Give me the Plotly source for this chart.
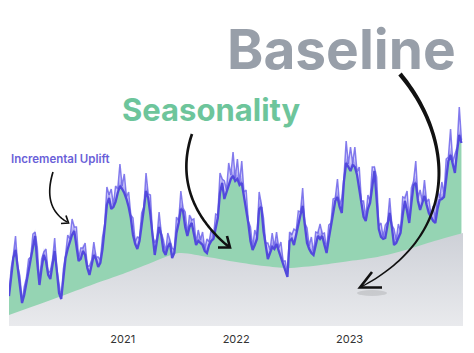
import numpy as np
import pandas as pd
import plotly.graph_objects as go

W, H = 474, 353

# ---- data (heights, arbitrary units) ----
weeks = pd.date_range("2020-01-01", periods=209, freq="7D")
# baseline + seasonality level (top of the green area)
total = [36, 54, 74, 82, 64, 47, 29, 37, 51, 61, 73, 83, 96, 69, 47, 64, 77, 71, 57, 53,
         69, 81, 61, 39, 33, 54, 74, 83, 91, 97, 101, 87, 71, 73, 81, 77, 64, 57, 69, 77,
         73, 65, 69, 83, 104, 127, 134, 123, 125, 130, 139, 146, 143, 139, 133, 125, 114, 97, 88, 83,
         91, 105, 123, 141, 134, 117, 94, 77, 91, 105, 97, 81, 77, 85, 89, 74, 79, 99, 109, 123,
         121, 105, 96, 105, 109, 97, 87, 91, 89, 87, 81, 79, 87, 91, 93, 103, 114, 139, 149, 133,
         139, 147, 153, 156, 151, 153, 147, 149, 137, 124, 109, 91, 82, 87, 93, 123, 125, 101, 87, 73,
         79, 85, 83, 88, 81, 75, 69, 61, 55, 91, 93, 87, 99, 107, 117, 126, 107, 89, 83, 79,
         77, 87, 96, 93, 96, 87, 79, 93, 107, 117, 131, 135, 125, 119, 151, 169, 165, 161, 167, 165,
         157, 144, 129, 115, 111, 123, 129, 147, 161, 133, 103, 95, 93, 94, 107, 119, 105, 87, 89, 94,
         99, 117, 131, 121, 109, 129, 147, 149, 131, 122, 129, 136, 127, 119, 115, 111, 109, 123, 132, 133,
         135, 151, 171, 177, 167, 159, 181, 197, 189]
# incremental uplift spikes on top of it
uplift = [2, 10, 3, 14, 2, 9, 1, 8, 3, 12, 2, 15, 4, 16, 2, 9, 3, 12, 2, 8,
          3, 13, 2, 11, 1, 9, 3, 14, 2, 16, 4, 18, 2, 11, 3, 12, 2, 9, 3, 13,
          2, 10, 3, 12, 4, 18, 3, 20, 2, 16, 4, 22, 3, 19, 2, 15, 3, 17, 2, 12,
          3, 14, 2, 18, 4, 20, 2, 12, 3, 15, 2, 11, 3, 14, 2, 10, 3, 16, 2, 18,
          3, 15, 2, 12, 3, 16, 2, 11, 3, 13, 2, 14, 3, 12, 2, 15, 3, 20, 4, 18,
          3, 22, 4, 24, 3, 20, 2, 22, 3, 18, 2, 14, 3, 15, 2, 17, 3, 13, 2, 16,
          3, 14, 2, 12, 3, 15, 2, 10, 3, 9, 4, 16, 2, 14, 3, 18, 2, 15, 3, 16,
          2, 13, 3, 15, 2, 12, 3, 14, 2, 16, 3, 18, 2, 15, 4, 22, 3, 24, 2, 20,
          3, 21, 2, 16, 3, 14, 2, 18, 4, 22, 3, 14, 2, 13, 3, 15, 2, 16, 3, 14,
          2, 18, 3, 20, 2, 15, 4, 22, 3, 20, 2, 16, 3, 14, 2, 15, 3, 18, 2, 17,
          3, 22, 4, 26, 3, 20, 4, 28, 3]

baseline_dates = ["2020-01-01", "2020-06-01", "2020-10-01", "2021-01-01", "2021-04-01",
                  "2021-07-01", "2021-10-01", "2022-01-01", "2022-04-01", "2022-06-15",
                  "2022-10-01", "2023-01-01", "2023-04-01", "2023-07-01", "2023-10-01",
                  "2024-01-01"]
baseline = [11, 28, 42, 52, 63, 73, 69, 64, 60, 58, 61, 65, 69, 76, 85, 93]

year_ticks = ["2021-01-01", "2022-01-01", "2023-01-01"]
year_labels = ["2021", "2022", "2023"]

GREEN = "#95d4b3"
PURPLE = "#5249dc"

LINE_DROP = 6  # drawing offset of the solid line below the read level

lvl = np.array(total, dtype=float) - LINE_DROP
top = lvl + np.array(uplift, dtype=float)

fig = go.Figure()

# seasonality (green area)
fig.add_trace(go.Scatter(x=weeks, y=lvl, mode="lines", line=dict(width=0, color=GREEN),
                         fill="tozeroy", fillcolor=GREEN, hoverinfo="skip"))

# baseline (grey gradient area)
fig.add_trace(go.Scatter(x=baseline_dates, y=baseline, mode="lines",
                         line=dict(width=0, shape="spline", smoothing=0.8, color="#d2d5db"),
                         fill="tozeroy",
                         fillgradient=dict(type="vertical", start=0, stop=95,
                                           colorscale=[[0, "#e9eaed"], [1, "#cdd0d7"]]),
                         hoverinfo="skip"))

# incremental uplift: spiky purple streaks above a solid purple line
fig.add_trace(go.Scatter(x=weeks, y=lvl, mode="lines", line=dict(width=0), hoverinfo="skip"))
fig.add_trace(go.Scatter(x=weeks, y=top, mode="lines", line=dict(width=1.5, color="rgba(104,94,232,0.8)"),
                         fill="tonexty", fillcolor="rgba(125,115,238,0.3)", hoverinfo="skip"))
fig.add_trace(go.Scatter(x=weeks, y=lvl, mode="lines", line=dict(width=0), hoverinfo="skip"))
for off, a in [(2.5, 0.65), (5, 0.35), (7.5, 0.15)]:
    fig.add_trace(go.Scatter(x=weeks, y=lvl + off, mode="lines", line=dict(width=0),
                             fill="tonexty", fillcolor=f"rgba(95,85,228,{a})", hoverinfo="skip"))
fig.add_trace(go.Scatter(x=weeks, y=lvl, mode="lines", line=dict(width=2.3, color=PURPLE),
                         hoverinfo="skip"))


# ---- helpers for annotation arrows (figure pixel space -> paper) ----
def path_str(pts, close=False):
    s = "M " + " L ".join(f"{px / W:.5f},{1 - py / H:.5f}" for px, py in pts)
    return s + (" Z" if close else "")


def bezier(p0, p1, p2, p3, n=80):
    p0, p1, p2, p3 = map(np.array, (p0, p1, p2, p3))
    t = np.linspace(0, 1, n)[:, None]
    return ((1 - t) ** 3) * p0 + 3 * ((1 - t) ** 2) * t * p1 + 3 * (1 - t) * t ** 2 * p2 + t ** 3 * p3


def tapered(p0, p1, p2, p3, w0, w1, n=80):
    pts = bezier(p0, p1, p2, p3, n)
    d = np.gradient(pts, axis=0)
    d /= np.linalg.norm(d, axis=1)[:, None]
    nrm = np.stack([-d[:, 1], d[:, 0]], axis=1)
    w = np.linspace(w0, w1, n)[:, None] / 2
    poly = np.vstack([pts + nrm * w, (pts - nrm * w)[::-1]])
    return path_str(poly, close=True)


shapes = []


def add_curve(p0, p1, p2, p3, w0, w1):
    shapes.append(dict(type="path", path=tapered(p0, p1, p2, p3, w0, w1), xref="paper", yref="paper",
                       fillcolor="#111111", line=dict(width=0), layer="above"))


def add_head(pts, w):
    shapes.append(dict(type="path", path=path_str(pts), xref="paper", yref="paper",
                       fillcolor="rgba(0,0,0,0)", line=dict(color="#111111", width=w), layer="above"))


# Incremental uplift arrow
add_curve((53, 172), (46, 195), (50, 212), (67, 222), 1.7, 1.5)
add_head([(61, 223.5), (68.5, 223), (66, 215.5)], 1.7)
# Seasonality arrow
add_curve((192, 134), (178, 175), (190, 215), (229, 247), 2.7, 2.5)
add_head([(218, 247.5), (230, 247.5), (227, 236)], 2.6)
# Baseline arrow
shapes.append(dict(type="circle", xref="paper", yref="paper",
                   x0=357 / W, x1=387 / W, y0=1 - 296 / H, y1=1 - 290 / H,
                   fillcolor="rgba(0,0,0,0.10)", line=dict(width=0), layer="above"))
add_curve((400, 74), (455, 140), (460, 235), (361, 287), 4.4, 1.3)
add_head([(372, 272), (360, 287.5), (382, 287.5)], 2.6)


def label(text, px, py, size, color, weight=700):
    return dict(text=text, x=px / W, y=1 - py / H, xref="paper", yref="paper",
                xanchor="center", yanchor="middle", showarrow=False,
                font=dict(family="Inter", size=size, color=color, weight=weight))


annotations = [
    label("Baseline", 341, 49, 55, "#989fa9"),
    label("Seasonality", 211, 110, 31, "#6dc59b"),
    label("Incremental Uplift", 60, 159, 11.5, "#6a5fd8", 600),
]

fig.update_layout(
    width=W, height=H, margin=dict(l=0, r=0, t=0, b=0),
    paper_bgcolor="white", plot_bgcolor="white", showlegend=False,
    shapes=shapes, annotations=annotations,
    xaxis=dict(type="date", range=["2020-01-01", "2024-01-01"], domain=[9 / W, 463 / W],
               showgrid=False, zeroline=False, showline=False, ticks="",
               tickvals=year_ticks, ticktext=year_labels, automargin=False,
               ticklabelstandoff=5,
               tickfont=dict(family="Inter", size=11, color="#333333")),
    yaxis=dict(range=[0, 326], domain=[27 / H, 1], visible=False, fixedrange=True),
)

fig.write_html("out.html")
